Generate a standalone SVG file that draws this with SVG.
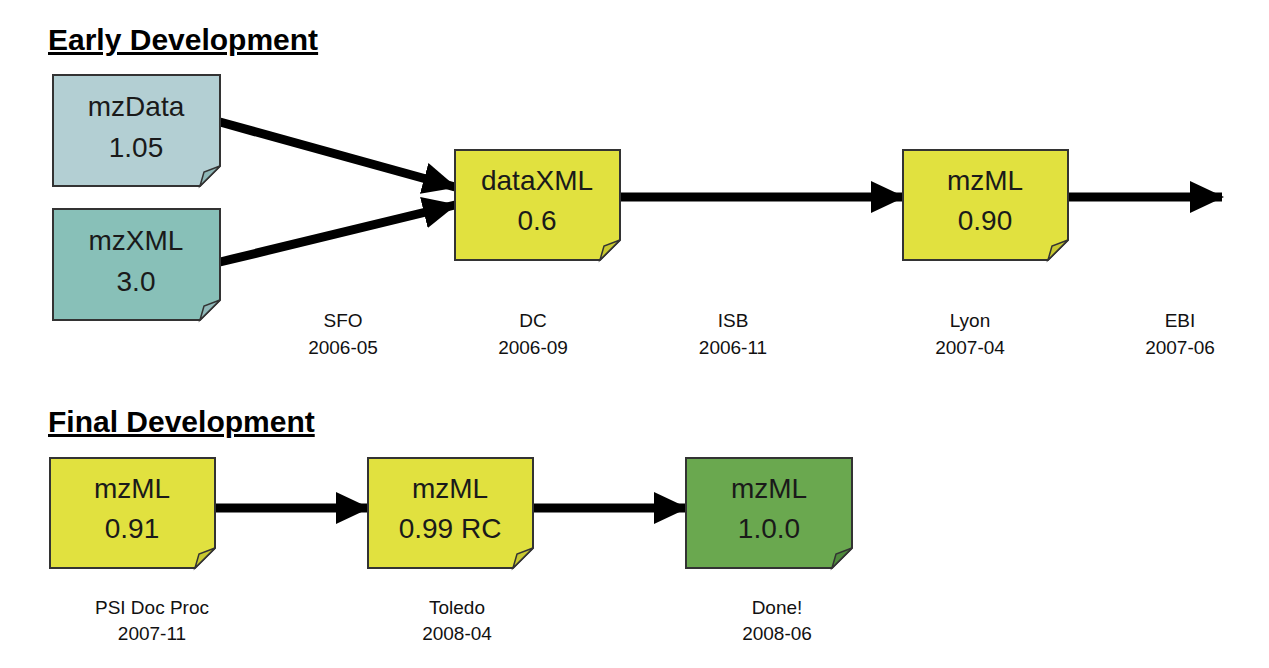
<svg xmlns="http://www.w3.org/2000/svg" width="1269" height="668" viewBox="0 0 1269 668">
<style>
.h{font:bold 30px "Liberation Sans",Arial,sans-serif;text-decoration:underline}
.n{font:28px "Liberation Sans",Arial,sans-serif;fill:#1a1a1a;text-anchor:middle}
.l{font:19px "Liberation Sans",Arial,sans-serif;fill:#111;text-anchor:middle}
.b{stroke:#333;stroke-width:2}
.f{fill:#8fb8b8;stroke:#333;stroke-width:1.5}
.c{stroke:#000;stroke-width:9;fill:none;marker-end:url(#a)}
</style>
<defs><marker id="a" markerUnits="userSpaceOnUse" markerWidth="34" markerHeight="32" refX="32" refY="16" orient="auto"><path d="M0,0L34,16L0,32Z" fill="#000"/></marker></defs>
<rect width="1269" height="668" fill="#fff"/>
<text class="h" x="48" y="50">Early Development</text>
<text class="h" x="48" y="432">Final Development</text>
<g id="connectors">
<path class="c" d="M220,122L455,187"/>
<path class="c" d="M220,262L455,205"/>
<path class="c" d="M620,197L903,197"/>
<path class="c" d="M1068,197L1222,197"/>
<path class="c" d="M215,508L368,508"/>
<path class="c" d="M533,508L686,508"/>
</g>
<g id="mzData"><path class="b" fill="#b3cfd3" d="M53,75H220V166L200,186H53Z"/><path class="f" d="M200,186L204,172L220,166Z"/><text class="n" x="136" y="116">mzData</text><text class="n" x="136" y="157">1.05</text></g>
<g id="mzXML"><path class="b" fill="#88c0b8" d="M53,209H220V300L200,320H53Z"/><path class="f" d="M200,320L204,306L220,300Z"/><text class="n" x="136" y="250">mzXML</text><text class="n" x="136" y="291">3.0</text></g>
<g id="dataXML"><path class="b" fill="#e1e13f" d="M455,150H620V240L600,260H455Z"/><path class="f" fill="#c8c830" d="M600,260L604,246L620,240Z" style="fill:#c8c830"/><text class="n" x="537" y="190">dataXML</text><text class="n" x="537" y="230">0.6</text></g>
<g id="mzML090"><path class="b" fill="#e1e13f" d="M903,150H1068V240L1048,260H903Z"/><path class="f" style="fill:#c8c830" d="M1048,260L1052,246L1068,240Z"/><text class="n" x="985" y="190">mzML</text><text class="n" x="985" y="230">0.90</text></g>
<g id="mzML091"><path class="b" fill="#e1e13f" d="M50,458H215V548L195,568H50Z"/><path class="f" style="fill:#c8c830" d="M195,568L199,554L215,548Z"/><text class="n" x="132" y="498">mzML</text><text class="n" x="132" y="538">0.91</text></g>
<g id="mzML099"><path class="b" fill="#e1e13f" d="M368,458H533V548L513,568H368Z"/><path class="f" style="fill:#c8c830" d="M513,568L517,554L533,548Z"/><text class="n" x="450" y="498">mzML</text><text class="n" x="450" y="538">0.99 RC</text></g>
<g id="mzML100"><path class="b" fill="#6aa84f" d="M686,458H852V548L832,568H686Z"/><path class="f" style="fill:#4f8a3c" d="M832,568L836,554L852,548Z"/><text class="n" x="769" y="498">mzML</text><text class="n" x="769" y="538">1.0.0</text></g>
<g id="labels">
<text class="l" x="343" y="327">SFO</text><text class="l" x="343" y="354">2006-05</text>
<text class="l" x="533" y="327">DC</text><text class="l" x="533" y="354">2006-09</text>
<text class="l" x="733" y="327">ISB</text><text class="l" x="733" y="354">2006-11</text>
<text class="l" x="970" y="327">Lyon</text><text class="l" x="970" y="354">2007-04</text>
<text class="l" x="1180" y="327">EBI</text><text class="l" x="1180" y="354">2007-06</text>
<text class="l" x="152" y="614">PSI Doc Proc</text><text class="l" x="152" y="640">2007-11</text>
<text class="l" x="457" y="614">Toledo</text><text class="l" x="457" y="640">2008-04</text>
<text class="l" x="777" y="614">Done!</text><text class="l" x="777" y="640">2008-06</text>
</g>
</svg>
